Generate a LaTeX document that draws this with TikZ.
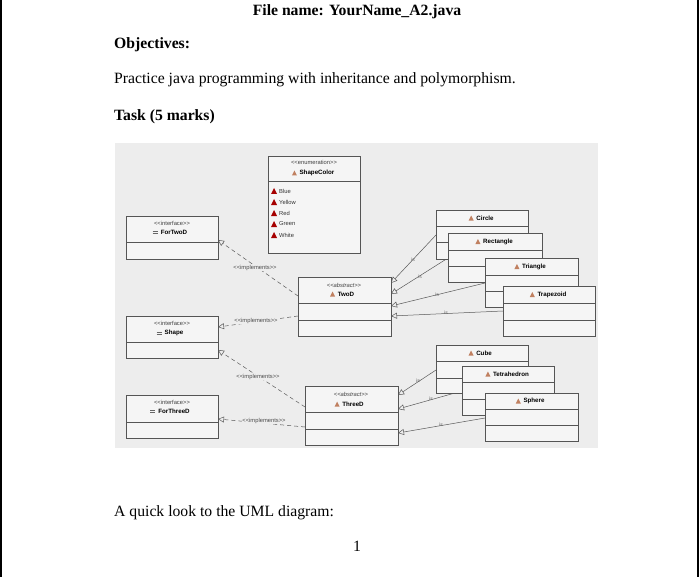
\documentclass[tikz,border=0pt]{standalone}
\usepackage{fontspec}
\setmainfont{Liberation Serif}
\newfontfamily\umlfont{Liberation Sans}
\usetikzlibrary{arrows.meta,calc}
\definecolor{bgg}{HTML}{EDEDED}
\definecolor{bx}{HTML}{555555}
\definecolor{ic}{HTML}{C08060}
\tikzset{
  umlbox/.style={draw=bx,fill=white!96!black,line width=0.5pt,inner sep=0,anchor=north west},
  st/.style={font=\umlfont\fontsize{5.8}{6.5}\selectfont,text=black!75,inner sep=0},
  nm/.style={font=\umlfont\bfseries\fontsize{6.2}{7}\selectfont,inner sep=0},
  gen/.style={draw=black!65,line width=0.5pt,-{Triangle[open,length=6pt,width=6pt]}},
  impl/.style={gen,dashed,dash pattern=on 4pt off 3pt},
  islbl/.style={font=\umlfont\fontsize{5}{6}\selectfont,text=black!60,inner sep=0},
  imlbl/.style={font=\umlfont\fontsize{5.8}{6.5}\selectfont,text=black!70,fill=bgg,inner sep=0.5pt},
  txt/.style={font=\fontsize{15.7}{18}\selectfont,anchor=west,inner sep=0},
  btxt/.style={txt,font=\bfseries\fontsize{15.7}{18}\selectfont}
}
% name, x, y, w, h, div1, div2
\newcommand\umlcls[7]{%
  \node[umlbox,minimum width=#4pt,minimum height=#5pt] (#1) at (#2,#3) {};
  \draw[bx,line width=0.5pt] (#2,#6) -- ++(#4,0);
  \draw[bx,line width=0.5pt] (#2,#7) -- ++(#4,0);}
\newcommand\clsicon[1]{\fill[ic] (#1) ++(-2.5,2.5) -- ++(2.5,-5) -- ++(2.5,5) -- cycle;}
\begin{document}
\begin{tikzpicture}[x=1pt,y=-1pt]
\fill[white] (0,0) rectangle (700,577);
\useasboundingbox (0,0) rectangle (700,577);
\draw[line width=1.5pt] (1,0) -- (1,577);
\draw[line width=1.5pt] (698,0) -- (698,577);
\node[btxt,anchor=center] (title) at (357,12) {File name: YourName\_A2.java};
\node[btxt] (obj) at (114,45) {Objectives:};
\node[txt] (prac) at (114,80) {Practice java programming with inheritance and polymorphism.};
\node[btxt] (task) at (114,117) {Task (5 marks)};
\node[txt] (quick) at (114,513) {A quick look to the UML diagram:};
\node[txt,anchor=center] (pg) at (357,546) {1};
\fill[bgg] (115,143) rectangle (598,448);
% enum
\node[umlbox,minimum width=92pt,minimum height=97pt] (color) at (268,156) {};
\draw[bx,line width=0.5pt] (268,181) -- ++(92,0);
\node[st] (colst) at (314,162) {<<enumeration>>};
\node[nm] (colnm) at (317,173) {ShapeColor};
\clsicon{$(colnm.west)+(-5,0)$}
\foreach \t [count=\i] in {Blue,Yellow,Red,Green,White}{
  \fill[red!65!black] (271,{180+11*\i+3}) -- ++(3,-6) -- ++(3,6) -- cycle;
  \node[st,anchor=west,text=black!80] (e\i) at (279,{180+11*\i}) {\t};
}
% interfaces
\umlcls{ftwo}{126}{216}{92}{43}{242}{242}
\node[st] (ftwost) at (172,223) {<<interface>>};
\node[nm] (ftwonm) at (174,232) {ForTwoD};
\draw[black!60] ($(ftwonm.west)+(-8,-0.8)$) -- ++(5,0) ($(ftwonm.west)+(-8,0.8)$) -- ++(5,0);
\umlcls{shape}{126}{316}{92}{42}{342}{342}
\node[st] (shapest) at (172,323) {<<interface>>};
\node[nm] (shapenm) at (174,333) {Shape};
\draw[black!60] ($(shapenm.west)+(-8,-0.8)$) -- ++(5,0) ($(shapenm.west)+(-8,0.8)$) -- ++(5,0);
\umlcls{fthree}{126}{395}{92}{43}{422}{422}
\node[st] (fthreest) at (172,402) {<<interface>>};
\node[nm] (fthreenm) at (174,411) {ForThreeD};
\draw[black!60] ($(fthreenm.west)+(-8,-0.8)$) -- ++(5,0) ($(fthreenm.west)+(-8,0.8)$) -- ++(5,0);
% abstract
\umlcls{twod}{298}{277}{93}{59}{303}{320}
\node[st,font=\umlfont\itshape\fontsize{5.8}{6.5}\selectfont] (twost) at (344,285) {<<abstract>>};
\node[nm] (twonm) at (346,294) {TwoD};
\clsicon{$(twonm.west)+(-5,0)$}
\umlcls{threed}{305}{386}{93}{59}{412}{429}
\node[st,font=\umlfont\itshape\fontsize{5.8}{6.5}\selectfont] (threest) at (351,394) {<<abstract>>};
\node[nm] (threenm) at (353,404) {ThreeD};
\clsicon{$(threenm.west)+(-5,0)$}
% implements
\coordinate (a1) at (298,296); \coordinate (b1) at (218,240);
\draw[impl] (a1) -- (b1);
\node[imlbl] (l1) at (255,268) {<<implements>>};
\coordinate (a2) at (298,316); \coordinate (b2) at (218,327);
\draw[impl] (a2) -- (b2);
\node[imlbl] (l2) at (256,321) {<<implements>>};
\coordinate (a3) at (305,407); \coordinate (b3) at (218,350);
\draw[impl] (a3) -- (b3);
\node[imlbl] (l3) at (258,377) {<<implements>>};
\coordinate (a4) at (305,427); \coordinate (b4) at (218,419);
\draw[impl] (a4) -- (b4);
\node[imlbl] (l4) at (264,421) {<<implements>>};
% subclasses
\coordinate (c1) at (436,235); \coordinate (d1) at (391,283);
\coordinate (c2) at (448,258); \coordinate (d2) at (391,294);
\coordinate (c3) at (485,283); \coordinate (d3) at (391,306);
\coordinate (c4) at (503,311); \coordinate (d4) at (391,316);
\coordinate (c5) at (436,370); \coordinate (d5) at (398,395);
\coordinate (c6) at (462,391); \coordinate (d6) at (398,409);
\coordinate (c7) at (485,418); \coordinate (d7) at (398,433);
\foreach \k in {1,...,7}{\draw[gen] (c\k) -- (d\k);}
\node[islbl] (i1) at (413,260) {is};
\node[islbl] (i2) at (420,277) {is};
\node[islbl] (i3) at (437,295) {is};
\node[islbl] (i4) at (446,313) {is};
\node[islbl] (i5) at (418,381) {is};
\node[islbl] (i6) at (431,399) {is};
\node[islbl] (i7) at (441,425) {is};
\umlcls{circ}{436}{210}{92}{49}{226}{242}
\node[nm] (circnm) at (485,218) {Circle};
\clsicon{$(circnm.west)+(-5,0)$}
\umlcls{rect}{448}{233}{94}{49}{250}{266}
\node[nm] (rectnm) at (498,241.5) {Rectangle};
\clsicon{$(rectnm.west)+(-5,0)$}
\umlcls{tri}{485}{258}{93}{49}{275}{291}
\node[nm] (trinm) at (534,266.5) {Triangle};
\clsicon{$(trinm.west)+(-5,0)$}
\umlcls{trap}{503}{286}{92}{50}{303}{320}
\node[nm] (trapnm) at (552,294.5) {Trapezoid};
\clsicon{$(trapnm.west)+(-5,0)$}
\umlcls{cube}{436}{345}{92}{48}{361}{378}
\node[nm] (cubenm) at (484,353) {Cube};
\clsicon{$(cubenm.west)+(-5,0)$}
\umlcls{tetra}{462}{366}{92}{49}{382}{399}
\node[nm] (tetranm) at (511,374) {Tetrahedron};
\clsicon{$(tetranm.west)+(-5,0)$}
\umlcls{sph}{485}{393}{93}{48}{409}{425}
\node[nm] (sphnm) at (534,401) {Sphere};
\clsicon{$(sphnm.west)+(-5,0)$}
\end{tikzpicture}
\end{document}
